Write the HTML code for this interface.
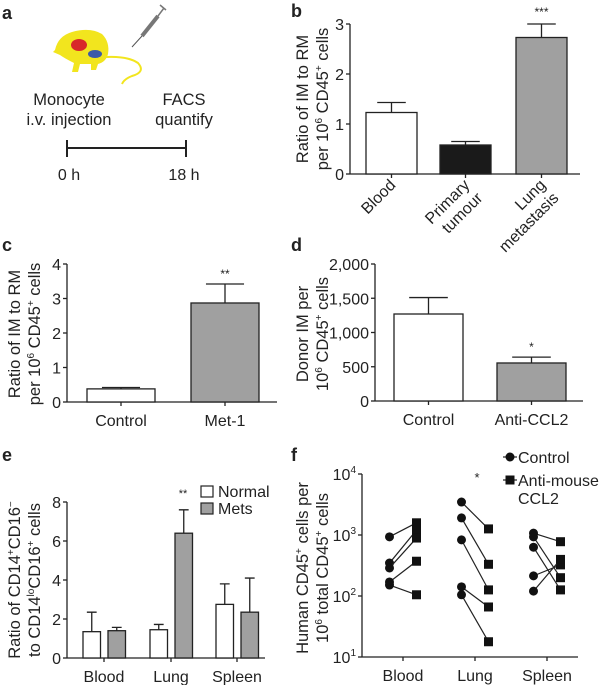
<!DOCTYPE html>
<html><head><meta charset="utf-8"><style>
body{margin:0;background:#fff;}
svg{display:block;font-family:"Liberation Sans",Arial,sans-serif;}
text{fill:#222;}
</style></head><body>
<svg id="fig" width="606" height="685" viewBox="0 0 606 685" xmlns="http://www.w3.org/2000/svg">
<g font-weight="bold" font-size="18">
<text x="2" y="19">a</text>
<text x="291" y="17">b</text>
<text x="2" y="251">c</text>
<text x="291" y="251">d</text>
<text x="2" y="461">e</text>
<text x="291" y="461">f</text>
</g>
<g>
<g>
<path d="M55 50 Q58 36 72 32 Q90 27 102 34 Q110 42 108 54 Q106 62 98 64 L96 70 L91 70 L91 64 L80 64 L78 72 L72 72 L74 63 Q64 58 60 55 L53 52 Z" fill="#f2e51e"/>
<path d="M106 57 Q128 56 138 63 Q146 72 132 76 Q124 79 122 84" fill="none" stroke="#f2e51e" stroke-width="2"/>
<ellipse cx="79" cy="45" rx="8" ry="6" fill="#d8282a"/>
<ellipse cx="95" cy="54" rx="7" ry="4" fill="#3c5aa8"/>
</g>
<g>
<line x1="132" y1="47" x2="142" y2="36" stroke="#555" stroke-width="1"/>
<line x1="142" y1="36" x2="158" y2="16" stroke="#777" stroke-width="4"/>
<line x1="158" y1="16" x2="164" y2="8" stroke="#777" stroke-width="1.5"/>
<line x1="160" y1="5" x2="166" y2="10" stroke="#777" stroke-width="1.5"/>
</g>
<text x="69" y="105" font-size="16.5" text-anchor="middle">Monocyte</text>
<text x="69" y="125" font-size="16.5" text-anchor="middle">i.v. injection</text>
<text x="184" y="105" font-size="16.5" text-anchor="middle">FACS</text>
<text x="184" y="125" font-size="16.5" text-anchor="middle">quantify</text>
<g stroke="#222" stroke-width="2">
<line x1="67" y1="148" x2="186" y2="148"/><line x1="67" y1="140" x2="67" y2="157"/><line x1="186" y1="140" x2="186" y2="157"/>
</g>
<text x="69" y="180" font-size="16" text-anchor="middle">0 h</text>
<text x="184" y="180" font-size="16" text-anchor="middle">18 h</text>
</g>
<g id="charts"></g>
</svg>
<script>
// Panel b
const bCats=["Blood","Primary tumour","Lung metastasis"];
const bVals=[1.23,0.58,2.73];
const bErr=[0.2,0.07,0.27];
const bTicks=[0,1,2,3];
// Panel c
const cCats=["Control","Met-1"];
const cVals=[0.38,2.87];
const cErr=[0.04,0.55];
const cTicks=[0,1,2,3,4];
// Panel d
const dCats=["Control","Anti-CCL2"];
const dVals=[1270,555];
const dErr=[240,85];
const dTicks=[0,500,1000,1500,2000];
const dTickLabels=["0","500","1,000","1,500","2,000"];
// Panel e
const eCats=["Blood","Lung","Spleen"];
const eNormal=[1.35,1.45,2.75];
const eNormalErr=[1.0,0.27,1.05];
const eMets=[1.4,6.4,2.35];
const eMetsErr=[0.17,1.2,1.75];
const eTicks=[0,2,4,6,8];
// Panel f (log10 values)
const fCats=["Blood","Lung","Spleen"];
const fControl=[[2.97,2.54,2.46,2.23,2.18],[3.54,3.28,2.92,2.15,2.02],[3.03,2.97,2.8,2.33,2.08]];
const fAnti=[[3.2,3.08,2.95,2.57,2.02],[3.1,2.52,2.1,1.82,1.25],[2.89,2.3,2.1,2.51,2.6]];
const fTicks=[1,2,3,4];

const FS=16, TFS=16.5;
const NS="http://www.w3.org/2000/svg";
const root=document.getElementById('charts');
function mk(tag,attrs,parent,txt){const e=document.createElementNS(NS,tag);for(const k in attrs)e.setAttribute(k,attrs[k]);if(txt!==undefined)e.textContent=txt;(parent||root).appendChild(e);return e;}
function axisY(g,x,yOf,ticks,labels,x2){
  mk('line',{x1:x,y1:yOf(ticks[0]),x2:x,y2:yOf(ticks[ticks.length-1]),stroke:'#222','stroke-width':1.3},g);
  mk('line',{x1:x,y1:yOf(ticks[0]),x2:x2,y2:yOf(ticks[0]),stroke:'#222','stroke-width':1.3},g);
  ticks.forEach((t,i)=>{
    mk('line',{x1:x-4,y1:yOf(t),x2:x,y2:yOf(t),stroke:'#222','stroke-width':1.3},g);
    const tl=mk('text',{x:x-6,y:yOf(t)+6,'font-size':FS,'text-anchor':'end'},g,labels?labels[i]:String(t));
    
    
  });
}
function yTitle(g,cx,cy,lines){
  lines.forEach((l,i)=>{
    const t=mk('text',{x:0,y:0,'font-size':TFS,'text-anchor':'middle',transform:`translate(${cx+i*20},${cy}) rotate(-90)`},g);
    t.innerHTML=l;
    
    
  });
}
function bar(g,x0,w,v,err,yOf,fill){
  const b=mk('rect',{x:x0,y:yOf(v),width:w,height:yOf(0)-yOf(v),fill:fill,stroke:'#222','stroke-width':1.3},g);
  
  
  const cx=x0+w/2,hw=w*0.28;
  const e=mk('path',{d:`M${cx} ${yOf(v)} V${yOf(v+err)} M${cx-hw} ${yOf(v+err)} H${cx+hw}`,stroke:'#222','stroke-width':1.3,fill:'none'},g);
  
  
}
const sup=(s)=>`<tspan font-size="10" dy="-6">${s}</tspan><tspan dy="6">`;
// ---- b
(function(){
  const g=mk('g',{});
  const y0=174,py=50,yOf=v=>y0-v*py;
  const xs=[366,440,516],w=51;
  axisY(g,350,yOf,bTicks,null,580);
  const fills=['#fff','#1a1a1a','#a0a0a0'];
  bCats.forEach((c,i)=>{
    bar(g,xs[i],w,bVals[i],bErr[i],yOf,fills[i]);
    const cx=xs[i]+w/2;
    mk('line',{x1:cx,y1:y0,x2:cx,y2:y0+4,stroke:'#222','stroke-width':1.3},g);
    const parts=c.split(' ');
    parts.forEach((p,j)=>{
      const t=mk('text',{x:0,y:0,'font-size':FS,'text-anchor':'end',transform:`translate(${cx+5+j*13},${y0+12+j*13}) rotate(-45)`},g,p);
      
      
    });
  });
  const s=mk('text',{x:xs[2]+w/2,y:16,'font-size':12,'text-anchor':'middle'},g,'***');
  
  yTitle(g,308,99,['Ratio of IM to RM','per 10'+sup('6')+' CD45</tspan>'+sup('+')+' cells</tspan>']);
})();
// ---- c
(function(){
  const g=mk('g',{});
  const y0=402,py=34.5,yOf=v=>y0-v*py;
  const xs=[87,191],w=68;
  axisY(g,67,yOf,cTicks,null,277);
  const fills=['#fff','#a0a0a0'];
  cCats.forEach((c,i)=>{
    bar(g,xs[i],w,cVals[i],cErr[i],yOf,fills[i]);
    const cx=xs[i]+w/2;
    mk('line',{x1:cx,y1:y0,x2:cx,y2:y0+4,stroke:'#222','stroke-width':1.3},g);
    const t=mk('text',{x:cx,y:y0+24,'font-size':FS,'text-anchor':'middle'},g,c);
    
  });
  const s=mk('text',{x:xs[1]+w/2,y:278,'font-size':12,'text-anchor':'middle'},g,'**');
  
  yTitle(g,20,334,['Ratio of IM to RM','per 10'+sup('6')+' CD45</tspan>'+sup('+')+' cells</tspan>']);
})();
// ---- d
(function(){
  const g=mk('g',{});
  const y0=401,py=137/2000,yOf=v=>y0-v*py;
  const xs=[394,497],w=69;
  axisY(g,375,yOf,dTicks,dTickLabels,583);
  const fills=['#fff','#a0a0a0'];
  dCats.forEach((c,i)=>{
    bar(g,xs[i],w,dVals[i],dErr[i],yOf,fills[i]);
    const cx=xs[i]+w/2;
    mk('line',{x1:cx,y1:y0,x2:cx,y2:y0+4,stroke:'#222','stroke-width':1.3},g);
    const t=mk('text',{x:cx,y:y0+24,'font-size':FS,'text-anchor':'middle'},g,c);
    
  });
  const s=mk('text',{x:xs[1]+w/2,y:351,'font-size':12,'text-anchor':'middle'},g,'*');
  
  yTitle(g,308,334,['Donor IM per','10'+sup('6')+' CD45</tspan>'+sup('+')+' cells</tspan>']);
})();
// ---- e
(function(){
  const g=mk('g',{});
  const y0=658,py=19.5,yOf=v=>y0-v*py;
  const centers=[104,171,237],w=17.5;
  axisY(g,67,yOf,eTicks,null,265);
  eCats.forEach((c,i)=>{
    bar(g,centers[i]-21,w,eNormal[i],eNormalErr[i],yOf,'#fff');
    bar(g,centers[i]+4,w,eMets[i],eMetsErr[i],yOf,'#a0a0a0');
    mk('line',{x1:centers[i],y1:y0,x2:centers[i],y2:y0+4,stroke:'#222','stroke-width':1.3},g);
    const t=mk('text',{x:centers[i],y:y0+24,'font-size':FS,'text-anchor':'middle'},g,c);
    
  });
  const s=mk('text',{x:183,y:497,'font-size':11,'text-anchor':'middle'},g,'**');
  
  const l1=mk('rect',{x:201,y:486,width:12,height:11,fill:'#fff',stroke:'#222','stroke-width':1.2},g);
  
  const l2=mk('rect',{x:201,y:503,width:12,height:11,fill:'#a0a0a0',stroke:'#222','stroke-width':1.2},g);
  
  const t1=mk('text',{x:218,y:497,'font-size':FS},g,'Normal');
  
  const t2=mk('text',{x:218,y:514,'font-size':FS},g,'Mets');
  
  yTitle(g,20,580,['Ratio of CD14'+sup('+')+'CD16</tspan>'+sup('−')+'</tspan>','to CD14'+sup('lo')+'CD16</tspan>'+sup('+')+' cells</tspan>']);
})();
// ---- f
(function(){
  const g=mk('g',{});
  const y0=657,py=61,yOf=v=>y0-(v-1)*py;
  const centers=[403,475,547],off=13.5;
  const x=362;
  mk('line',{x1:x,y1:yOf(1),x2:x,y2:yOf(4),stroke:'#222','stroke-width':1.3},g);
  mk('line',{x1:x,y1:yOf(1),x2:578,y2:yOf(1),stroke:'#222','stroke-width':1.3},g);
  fTicks.forEach(t=>{
    mk('line',{x1:x-4,y1:yOf(t),x2:x,y2:yOf(t),stroke:'#222','stroke-width':1.3},g);
    const tl=mk('text',{x:x-6,y:yOf(t)+6,'font-size':FS,'text-anchor':'end'},g);
    tl.innerHTML='10<tspan font-size="10" dy="-7">'+t+'</tspan>';
    
  });
  fCats.forEach((c,i)=>{
    const cx=centers[i];
    mk('line',{x1:cx,y1:y0,x2:cx,y2:y0+4,stroke:'#222','stroke-width':1.3},g);
    const t=mk('text',{x:cx,y:y0+24,'font-size':FS,'text-anchor':'middle'},g,c);
    
    fControl[i].forEach((v,j)=>{
      const a=fAnti[i][j];
      const ln=mk('line',{x1:cx-off,y1:yOf(v),x2:cx+off,y2:yOf(a),stroke:'#222','stroke-width':1.2},g);
      
      const p=mk('circle',{cx:cx-off,cy:yOf(v),r:4.5,fill:'#111'},g);
      
      const q=mk('rect',{x:cx+off-4.5,y:yOf(a)-4.5,width:9,height:9,fill:'#111'},g);
      
    });
  });
  const s=mk('text',{x:477,y:482,'font-size':13,'text-anchor':'middle'},g,'*');
  
  mk('line',{x1:503,y1:457,x2:517,y2:457,stroke:'#222','stroke-width':1.2},g);
  const lc=mk('circle',{cx:510,cy:457,r:4.5,fill:'#111'},g);
  
  mk('line',{x1:503,y1:480,x2:517,y2:480,stroke:'#222','stroke-width':1.2},g);
  const ls=mk('rect',{x:505.5,y:475.5,width:9,height:9,fill:'#111'},g);
  
  const t1=mk('text',{x:518,y:463,'font-size':FS},g,'Control');
  
  const t2=mk('text',{x:518,y:486,'font-size':FS},g,'Anti-mouse');
  
  const t3=mk('text',{x:518,y:504,'font-size':FS},g,'CCL2');
  
  yTitle(g,308,568,['Human CD45'+sup('+')+' cells per</tspan>','10'+sup('6')+' total CD45</tspan>'+sup('+')+' cells</tspan>']);
})();
</script>
</body></html>
